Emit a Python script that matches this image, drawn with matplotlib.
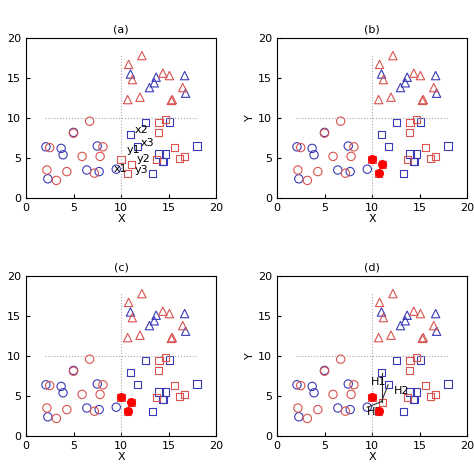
import matplotlib
matplotlib.use("Agg")
import matplotlib.pyplot as plt

bc = [(2.1,6.4),(3.7,6.2),(3.9,5.4),(5.0,8.2),(2.3,2.4),(6.4,3.5),(7.5,6.5),(7.7,3.3),(9.5,3.6)]
rc = [(2.5,6.3),(2.2,3.5),(3.2,2.2),(4.3,3.3),(5.0,8.1),(6.7,9.6),(5.9,5.2),(7.2,3.1),(7.8,5.2),(8.1,6.4)]
bs = [(11.0,7.9),(11.7,6.4),(12.6,9.4),(15.1,9.5),(14.0,5.5),(14.7,5.5),(14.4,4.6),(14.5,4.6),(13.3,3.1),(18.0,6.5)]
rs = [(10.0,4.8),(10.7,3.1),(11.1,4.2),(13.9,8.2),(14.0,9.4),(14.7,9.8),(13.7,4.8),(15.6,6.3),(16.2,4.9),(16.7,5.2)]
bt = [(11.0,15.5),(13.0,13.8),(13.5,14.4),(13.7,15.1),(16.7,15.3),(16.8,13.1)]
rt = [(10.8,16.7),(12.2,17.8),(11.2,14.8),(10.7,12.3),(12.0,12.6),(14.4,15.6),(15.1,15.3),(16.5,13.8),(15.3,12.2),(15.4,12.3)]
filled_bc = [(10.0,4.9),(11.0,4.3),(10.7,3.1)]
filled_d = [(10.0,4.9),(10.7,3.1)]
lines_d = [((11.0,7.9),(11.0,4.3)),((11.7,6.4),(11.0,4.3)),((9.5,3.6),(11.0,4.3))]
labels_a = [("x1",9.2,3.2),("y1",10.6,5.6),("x2",11.4,8.1),("x3",12.1,6.5),("y2",11.7,4.5),("y3",11.4,3.1)]
labels_d = [("H1",9.9,6.4),("H2",12.3,5.3),("H3",9.5,2.6)]
titles = ["(a)","(b)","(c)","(d)"]

R = "#d9534f"; B = "#3a3ab8"
fig = plt.figure(figsize=(4.74,4.74), dpi=100)
W, H = 474, 474
boxes = [(26,38),(277,38),(26,276),(277,276)]
for i,(l,t) in enumerate(boxes):
    ax = fig.add_axes([l/W, 1-(t+160)/H, 190/W, 160/H])
    ax.plot([10,10],[0,18],':',color='#aaaaaa',lw=0.8)
    ax.plot([2,18],[10,10],':',color='#aaaaaa',lw=0.8)
    for pts,m,c in [(bc,'o',B),(rc,'o',R),(bs,'s',B),(rs,'s',R),(bt,'^',B),(rt,'^',R)]:
        ax.scatter([p[0] for p in pts],[p[1] for p in pts],marker=m,s=36 if m!='s' else 26,
                   facecolors='none',edgecolors=c,linewidths=0.8)
    if i==0:
        for s,x,y in labels_a: ax.text(x,y,s,fontsize=8)
    if i in (1,2):
        ax.scatter([p[0] for p in filled_bc],[p[1] for p in filled_bc],s=30,color='red',zorder=5)
    if i==3:
        ax.scatter([p[0] for p in filled_d],[p[1] for p in filled_d],s=30,color='red',zorder=5)
        for a,b in lines_d: ax.plot([a[0],b[0]],[a[1],b[1]],color='#333333',lw=0.8)
        for s,x,y in labels_d: ax.text(x,y,s,fontsize=8)
    ax.set_xlim(0,20); ax.set_ylim(0,20)
    ax.set_xticks([0,5,10,15,20]); ax.set_yticks([0,5,10,15,20])
    ax.tick_params(labelsize=8, direction='in', length=3)
    ax.set_title(titles[i], fontsize=8, pad=4)
    ax.set_xlabel("X", fontsize=8, labelpad=1)
    if i in (1,3): ax.set_ylabel("Y", fontsize=8, labelpad=2)
fig.savefig("out.png", dpi=100)
